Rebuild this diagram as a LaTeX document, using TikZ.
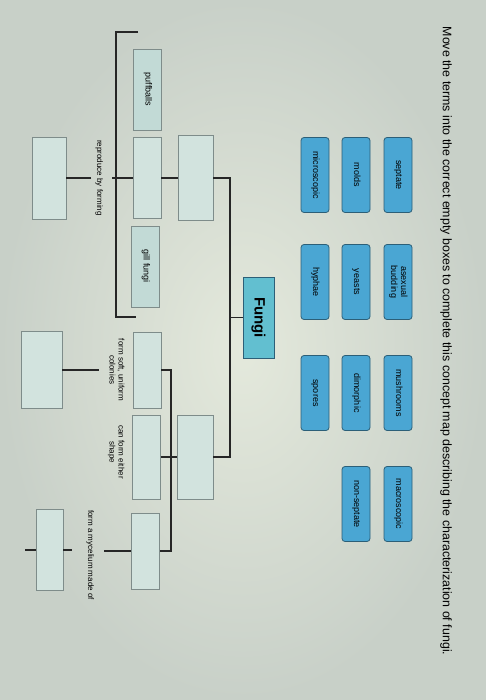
\documentclass[tikz,border=0pt]{standalone}
\usepackage{fontspec}
\setmainfont{Liberation Sans}
\usepackage{graphicx}
\usetikzlibrary{positioning,calc}

\definecolor{termblue}{HTML}{4AA6D3}
\definecolor{termedge}{HTML}{2C5F78}
\definecolor{fungiblue}{HTML}{62BFD0}
\definecolor{slotfill}{HTML}{D2E3DE}
\definecolor{placedfill}{HTML}{C2DAD6}
\definecolor{slotedge}{HTML}{7E8C8A}
\definecolor{bgin}{HTML}{E4E9DC}
\definecolor{bgout}{HTML}{C8D0C8}

% text turned to read top to bottom
\newcommand{\vtext}[1]{\rotatebox{-90}{\begin{tabular}{@{}c@{}}#1\end{tabular}}}

\begin{document}
\begin{tikzpicture}
  [
  x=1pt, y=-1pt,
  term/.style={rectangle, rounded corners=3pt, minimum width=28pt, minimum height=75pt, inner sep=0pt, draw=termedge, line width=0.8pt, fill=termblue, font=\fontsize{9}{10}\selectfont},
  slot/.style={rectangle, minimum width=28pt, minimum height=81pt, inner sep=0pt, draw=slotedge, line width=0.8pt, fill=slotfill, font=\fontsize{9}{10}\selectfont},
  placed/.style={slot, fill=placedfill},
  lbl/.style={inner sep=0pt, font=\fontsize{8}{9}\selectfont},
  link/.style={line width=1.4pt, draw=black!85}
  ]

\useasboundingbox (0,0) rectangle (486,700);
\shade[inner color=bgin, outer color=bgout] (0,0) rectangle (486,700);

\node[font=\fontsize{12.4}{14}\selectfont] (title) at (446,341) {\rotatebox{-90}{Move the terms into the correct empty boxes to complete this concept map describing the characterization of fungi.}};

\foreach \tx/\ty/\word [count=\i] in {398/175/septate, 398/282/{asexual\\budding}, 398/393/mushrooms, 398/504/macroscopic,
  356/175/molds, 356/282/yeasts, 356/393/dimorphic, 356/504/non-septate,
  315/175/microscopic, 315/282/hyphae, 315/393/spores} {
  \node[term] (term\i) at (\tx,\ty) {\vtext{\word}};
}

\node[term, rounded corners=0pt, fill=fungiblue, minimum width=31pt, minimum height=81pt, font=\fontsize{15}{17}\selectfont] (fungi) at (258.5,317.5) {\rotatebox{-90}{\textbf{Fungi}}};

\node[slot, minimum width=35pt, minimum height=85pt] (slotB) at (195.5,178) {};
\node[slot, minimum width=36pt, minimum height=84pt] (slotC) at (195,457) {};

\node[placed] (puff) at (147.5,89.5) {\vtext{puffballs}};
\node[slot] (slotA) at (147,178) {};
\node[placed] (gill) at (145.5,266.5) {\vtext{gill fungi}};
\node[slot, minimum height=76pt] (slotH) at (147,370) {};
\node[slot, minimum height=84pt] (slotI) at (146.5,457) {};
\node[slot, minimum height=76pt] (slotG) at (145.5,551) {};

\node[slot, minimum width=34pt, minimum height=82pt] (slotD) at (49,178) {};
\node[slot, minimum width=41pt, minimum height=77pt] (slotE) at (41.5,370) {};
\node[slot, minimum width=27pt, minimum height=81pt] (slotF) at (49.5,550) {};

\node[lbl] (reproduce) at (99,178) {\vtext{reproduce by forming}};
\node[lbl] (soft) at (116,370) {\vtext{form soft, uniform\\colonies}};
\node[lbl] (either) at (116,452) {\vtext{can form either\\shape}};
\node[lbl] (mycelium) at (90,555) {\vtext{form a mycelium made of}};

\coordinate (trunktop) at (230,178);
\coordinate (trunkbot) at (230,457);
\coordinate (kinktop) at (171,370);
\coordinate (kinkbot) at (171,551);
\coordinate (brk1) at (138,32);
\coordinate (brk2) at (116,32);
\coordinate (brk3) at (116,317);
\coordinate (brk4) at (136,317);
\coordinate (endA) at (112,178);
\coordinate (endD) at (91,178);
\coordinate (endE) at (99,370);
\coordinate (endG) at (104,551);
\coordinate (stubR) at (72,550);
\coordinate (stubL) at (25,550);

\draw[link] (slotB.east) -- (trunktop) -- (trunkbot) -- (slotC.east);
\draw[link] (fungi.west) -- (fungi.west -| trunktop);
\draw[link] (slotA.east) -- (slotB.west);
\draw[link] (brk1) -- (brk2) -- (brk3) -- (brk4);
\draw[link] (slotA.west) -- (endA);
\draw[link] (endD) -- (slotD.east);
\draw[link] (slotH.east) -- (kinktop) -- (kinkbot) -- (slotG.east);
\draw[link] (slotI.east) -- (slotC.west);
\draw[link] (slotE.east) -- (endE);
\draw[link] (endG) -- (slotG.west);
\draw[link] (slotF.east) -- (stubR);
\draw[link] (slotF.west) -- (stubL);
\end{tikzpicture}
\end{document}
